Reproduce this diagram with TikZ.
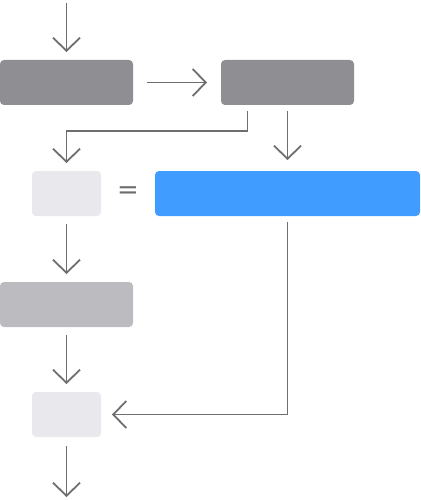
\documentclass[tikz,border=0pt]{standalone}
\usepackage{fontspec}
\setmainfont{DejaVu Sans}
\usetikzlibrary{arrows.meta}
\definecolor{dark}{HTML}{8E8E93}
\definecolor{light}{HTML}{E8E8ED}
\definecolor{mid}{HTML}{BCBCC0}
\definecolor{blue}{HTML}{409CFF}
\definecolor{ln}{HTML}{6E6E6E}
\tikzset{
  box/.style={rectangle, rounded corners=4pt, inner sep=0pt, outer sep=0pt, draw=none},
  arr/.style={draw=ln, line width=1.8pt, -{Straight Barb[length=13pt,width=27pt,line width=1.8pt]}},
}
\begin{document}
\begin{tikzpicture}[x=1pt,y=-1pt]
\useasboundingbox (0,0) rectangle (420,500);
\node[box, fill=dark, minimum width=133pt, minimum height=45pt] (A) at (66.5,82.5) {};
\node[box, fill=dark, minimum width=133pt, minimum height=45pt] (B) at (287.5,82.5) {};
\node[box, fill=light, minimum width=69pt, minimum height=45pt] (C) at (66.5,193.5) {};
\node[box, fill=blue, minimum width=265pt, minimum height=45pt] (D) at (287.5,193.5) {};
\node[text=ln, inner sep=0pt, font=\fontsize{26}{26}\selectfont] (eq) at (128,193) {=};
\node[box, fill=mid, minimum width=133pt, minimum height=45pt] (E) at (66.5,304.5) {};
\node[box, fill=light, minimum width=69pt, minimum height=45pt] (F) at (66.5,414.5) {};
\coordinate (top) at (66.5,3);
\coordinate (bot) at (66.5,497);
\draw[arr, shorten >=8pt] (top) -- (A.north);
\draw[arr, shorten <=14pt, shorten >=14pt] (A.east) -- (B.west);
\draw[arr, shorten <=6pt, shorten >=8pt] ([xshift=-40pt]B.south) -- ++(0,26) -| (C.north);
\draw[arr, shorten <=6pt, shorten >=11pt] (B.south) -- (D.north);
\draw[arr, shorten <=8pt, shorten >=8pt] (C.south) -- (E.north);
\draw[arr, shorten <=8pt, shorten >=8pt] (E.south) -- (F.north);
\draw[arr, shorten <=6pt, shorten >=11pt] (D.south) |- (F.east);
\draw[arr, shorten <=9pt] (F.south) -- (bot);
\end{tikzpicture}
\end{document}
